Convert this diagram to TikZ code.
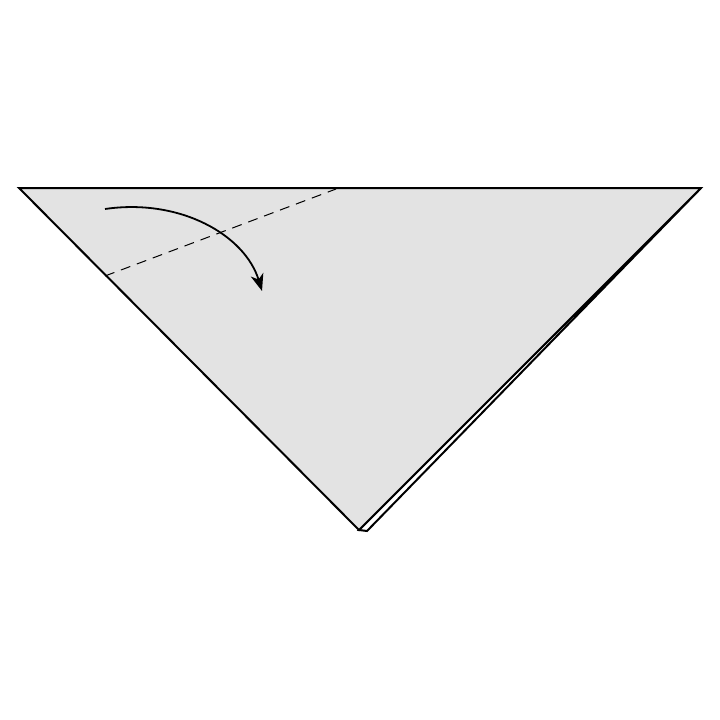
\documentclass[tikz,border=0pt]{standalone}
\usetikzlibrary{arrows.meta}
\definecolor{paper}{HTML}{E3E3E3}
\tikzset{
  edge/.style={line width=2pt, line join=miter},
  fold/.style={line width=1pt, dash pattern=on 10pt off 7pt},
  move/.style={line width=1.8pt, -{Stealth[length=17pt,width=13pt,inset=5pt]}}
}
\begin{document}
\begin{tikzpicture}[x=1pt,y=-1pt]
\useasboundingbox (0,0) rectangle (720,720);
\fill[white] (0,0) rectangle (720,720);
% back layer
\coordinate (R) at (701,188);
\coordinate (B2) at (367,531);
\coordinate (L) at (19,188);
\coordinate (B1) at (359,530);
\filldraw[fill=white, edge] (R) -- (B2) -- (B1) -- cycle;
% front layer
\filldraw[fill=paper, edge] (L) -- (R) -- (B1) -- cycle;
% fold line
\coordinate (F1) at (105,276);
\coordinate (F2) at (336,189);
\draw[fold] (F1) -- (F2);
% arrow
\coordinate (A1) at (105,209);
\coordinate (A2) at (262,291);
\draw[move] (A1) .. controls (180,198) and (245,235) .. (A2);
\end{tikzpicture}
\end{document}
